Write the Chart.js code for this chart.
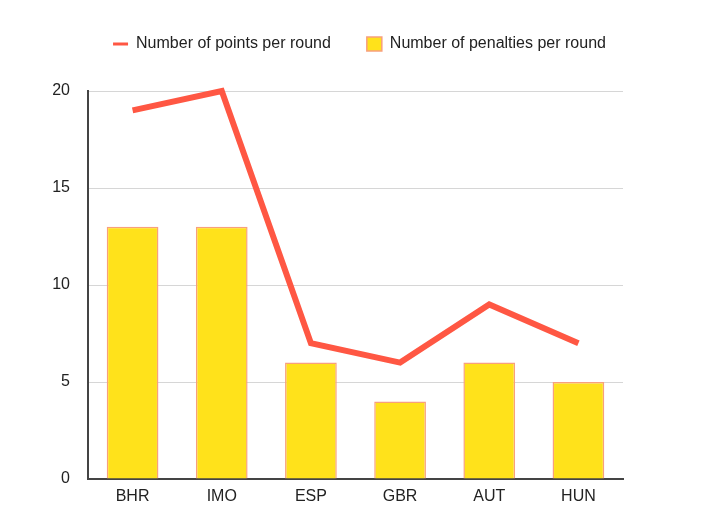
<!DOCTYPE html>
<html>
<head>
<meta charset="utf-8">
<style>
  html, body { margin: 0; padding: 0; background: #fff; }
  #wrap { width: 719px; height: 531px; }
</style>
</head>
<body>
<div id="wrap">
  <canvas id="chart" width="719" height="531"></canvas>
</div>

<script src="https://cdn.jsdelivr.net/npm/chart.js"></script>

<script>
  const rounds = ['BHR', 'IMO', 'ESP', 'GBR', 'AUT', 'HUN'];
  const pointsPerRound = [19, 20, 7, 6, 9, 7];
  const penaltiesPerRound = [13, 13, 6, 4, 6, 5];

  const FONT = '"Liberation Sans", Helvetica, Arial, sans-serif';

  // push the plot area down below the legend
  const legendGap = {
    id: 'legendGap',
    beforeInit(chart) {
      const fit = chart.legend.fit;
      chart.legend.fit = function () {
        fit.bind(chart.legend)();
        this.height += 29;
      };
    },
  };

  const ctx = document.getElementById('chart');

  const chart = new Chart(ctx, {
    type: 'bar',
    data: {
      labels: rounds,
      datasets: [
        {
          type: 'line',
          label: 'Number of points per round',
          data: pointsPerRound,
          borderColor: '#FF5743',
          backgroundColor: '#FF5743',
          borderWidth: 6,
          pointRadius: 0,
          pointHoverRadius: 0,
          tension: 0,
          clip: false,
          order: 0,
        },
        {
          label: 'Number of penalties per round',
          data: penaltiesPerRound,
          backgroundColor: '#FFE21B',
          borderColor: '#F8A07C',
          borderWidth: 1.5,
          categoryPercentage: 1,
          barPercentage: 0.58,
          order: 1,
        },
      ],
    },
    options: {
      responsive: false,
      animation: false,
      layout: {
        padding: { top: 0, right: 0, bottom: 0, left: 0 },
      },
      plugins: {
        tooltip: { enabled: false },
        legend: {
          position: 'top',
          labels: {
            color: '#222',
            font: { family: FONT, size: 16 },
            padding: 36,
            usePointStyle: true,
            pointStyleWidth: 15,
            boxHeight: 14,
            generateLabels(chart) {
              const items = Chart.defaults.plugins.legend.labels.generateLabels(chart);
              items[0].pointStyle = 'line';
              items[0].lineWidth = 3;
              items[1].pointStyle = 'rect';
              return items;
            },
          },
        },
      },
      scales: {
        x: {
          grid: { display: false, drawTicks: false },
          border: { display: true, color: '#444', width: 2 },
          ticks: {
            color: '#222',
            font: { family: FONT, size: 16 },
            padding: 8,
          },
          afterFit(scale) { scale.height = 52; },
        },
        y: {
          min: 0,
          max: 20,
          ticks: {
            stepSize: 5,
            color: '#222',
            font: { family: FONT, size: 16 },
            padding: 18,
          },
          grid: { color: '#d6d6d6', lineWidth: 1, drawTicks: false },
          border: { display: true, color: '#444', width: 2 },
          afterFit(scale) { scale.width = 88; },
        },
        // empty right-hand space so the legend stays centred on the canvas
        spacer: {
          type: 'linear',
          position: 'right',
          display: true,
          grid: { display: false, drawTicks: false },
          border: { display: false },
          ticks: { display: false },
          afterFit(scale) { scale.width = 96; },
        },
      },
    },
    plugins: [legendGap],
  });
</script>
</body>
</html>
